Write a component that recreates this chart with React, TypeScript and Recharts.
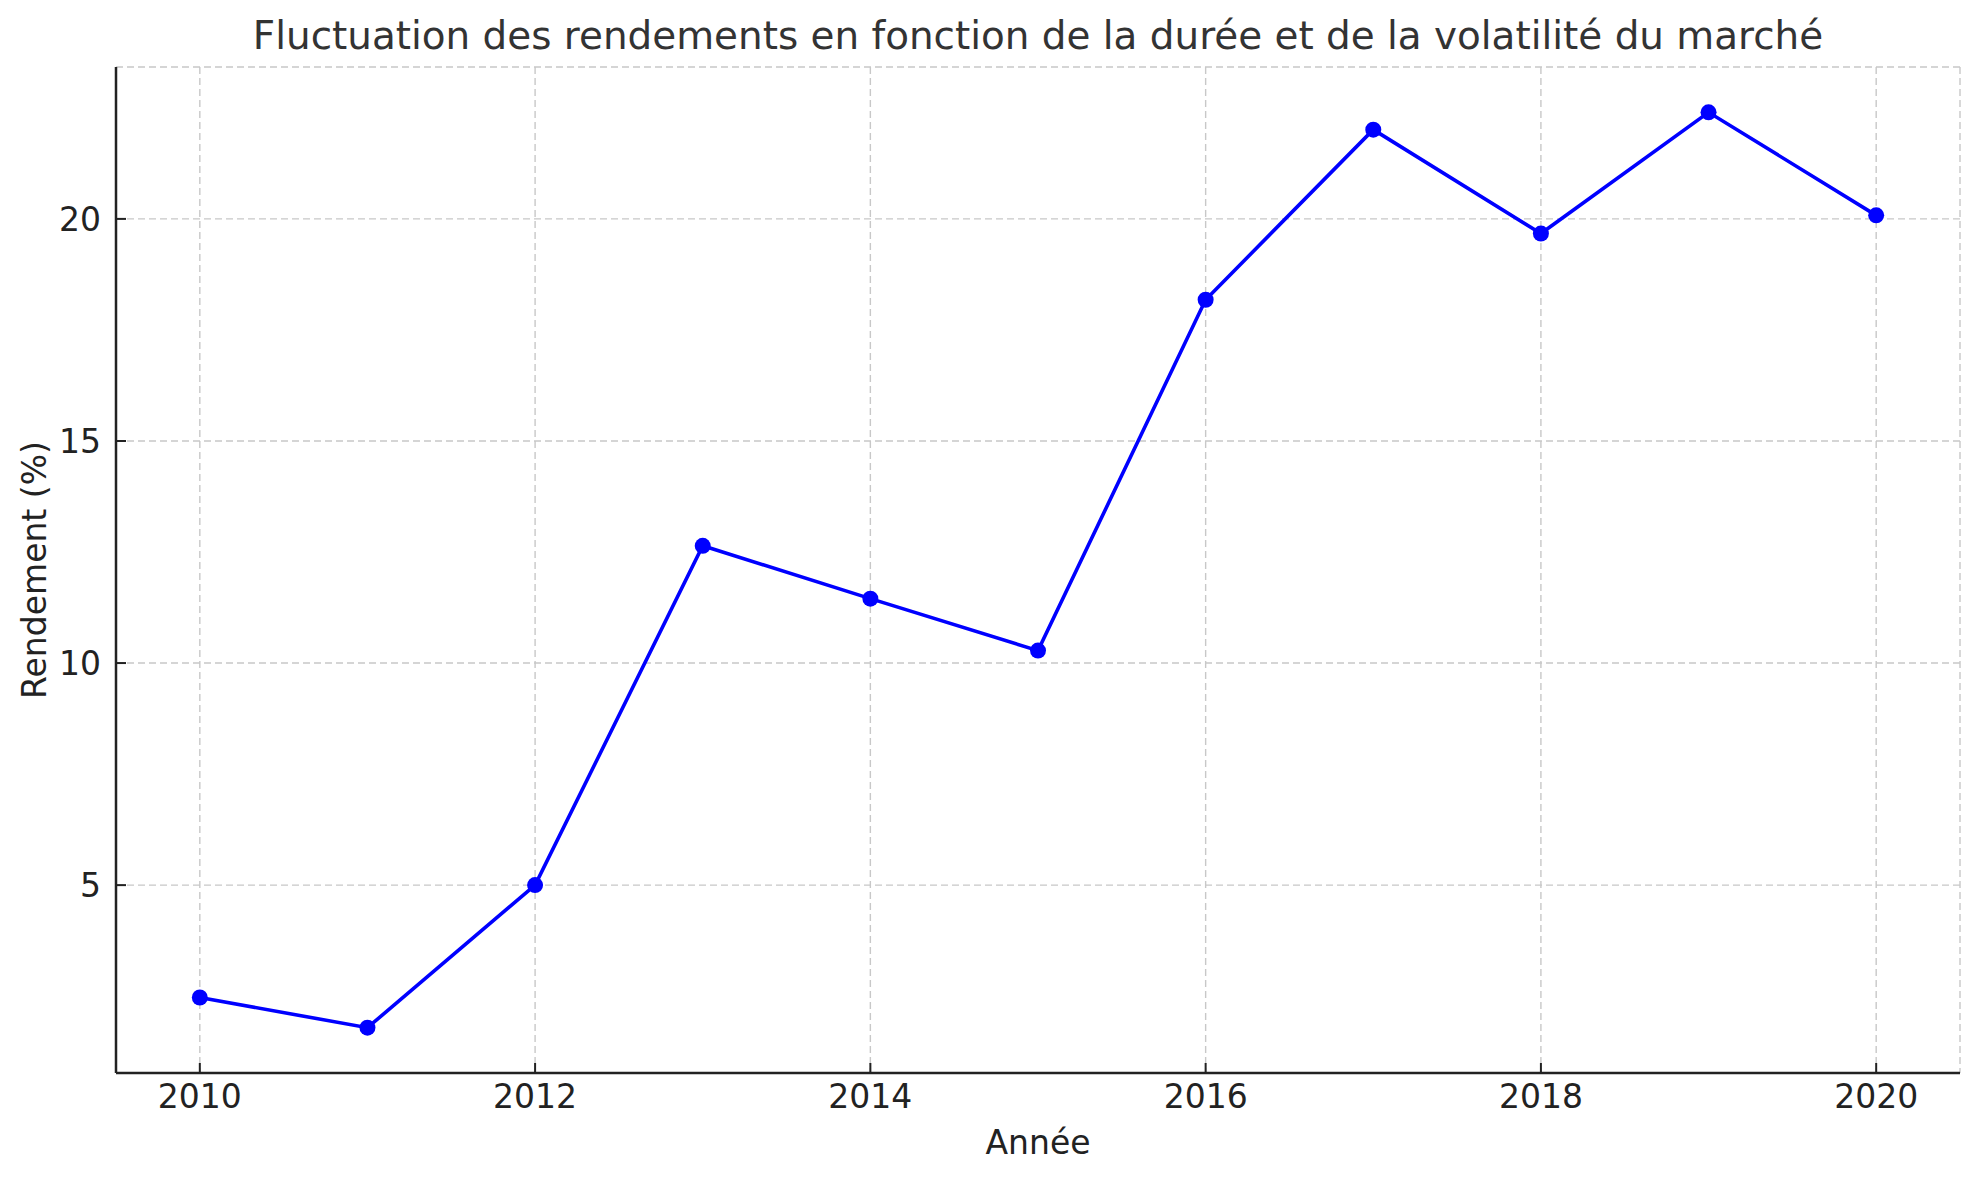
import { LineChart, Line, XAxis, YAxis, CartesianGrid, Label } from 'recharts';

const years = [2010, 2011, 2012, 2013, 2014, 2015, 2016, 2017, 2018, 2019, 2020];
const rendements = [2.47, 1.79, 5.0, 12.64, 11.45, 10.28, 18.18, 22.01, 19.67, 22.4, 20.08];
const xTicks = [2010, 2012, 2014, 2016, 2018, 2020];
const yTicks = [5, 10, 15, 20];

const title = 'Fluctuation des rendements en fonction de la durée et de la volatilité du marché';

const data = years.map((year, i) => ({ year, rendement: rendements[i] }));

const FONT = '"DejaVu Sans", sans-serif';
const tickStyle = { fontSize: 33, fill: '#222', fontFamily: FONT };

export default function App() {
  return (
    <div style={{ position: 'relative', width: 1963, height: 1164, fontFamily: FONT, background: '#fff' }}>
      {/* title centred over the plot area */}
      <div
        style={{
          position: 'absolute',
          left: 108,
          width: 1844,
          top: 3,
          height: 50,
          lineHeight: '50px',
          textAlign: 'center',
          fontSize: 38.9,
          color: '#333',
          whiteSpace: 'nowrap',
        }}
      >
        {title}
      </div>
      <LineChart
        width={1963}
        height={1164}
        data={data}
        margin={{ top: 59, right: 11, bottom: 29, left: 8 }}
      >
        <CartesianGrid stroke="#c8c8c8" strokeWidth={1.4} strokeDasharray="7 4" />
        <XAxis
          dataKey="year"
          type="number"
          domain={[2009.5, 2020.5]}
          ticks={xTicks}
          allowDataOverflow
          height={70}
          tick={tickStyle}
          tickSize={-10}
          tickMargin={22}
          axisLine={{ stroke: '#222', strokeWidth: 2.5 }}
          tickLine={{ stroke: '#222', strokeWidth: 2 }}
        >
          <Label value="Année" position="center" dy={34} style={{ fontSize: 33, fill: '#222', fontFamily: FONT }} />
        </XAxis>
        <YAxis
          type="number"
          domain={[0.77, 23.42]}
          ticks={yTicks}
          allowDataOverflow
          width={100}
          tick={tickStyle}
          tickSize={-10}
          tickMargin={25}
          axisLine={{ stroke: '#222', strokeWidth: 2.5 }}
          tickLine={{ stroke: '#222', strokeWidth: 2 }}
        >
          <Label
            value="Rendement (%)"
            angle={-90}
            position="center"
            dx={-32}
            style={{ fontSize: 33, fill: '#222', fontFamily: FONT, textAnchor: 'middle' }}
          />
        </YAxis>
        <Line
          type="linear"
          dataKey="rendement"
          stroke="#0000ff"
          strokeWidth={3.6}
          dot={{ r: 8, fill: '#0000ff', stroke: '#0000ff', strokeWidth: 0 }}
          activeDot={false}
          isAnimationActive={false}
        />
      </LineChart>
    </div>
  );
}
